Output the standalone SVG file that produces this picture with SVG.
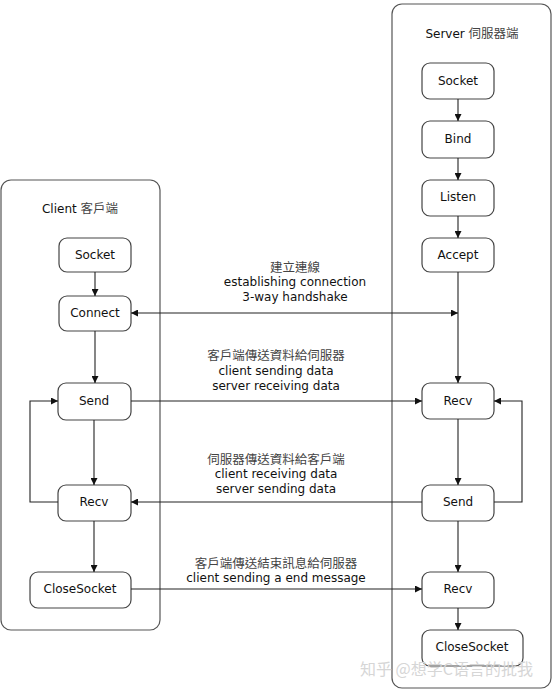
<svg xmlns="http://www.w3.org/2000/svg" width="553" height="689" viewBox="0 0 553 689">
<defs>
<marker id="arr" viewBox="0 0 10 10" refX="10" refY="5" markerWidth="7" markerHeight="7" markerUnits="userSpaceOnUse" orient="auto-start-reverse">
<path d="M0,0 L10,5 L0,10 z" fill="#111"/>
</marker>
</defs>
<style>
.cont{fill:#fff;stroke:#555;stroke-width:1.2}
.node rect{fill:#fff;stroke:#444;stroke-width:1.2}
text{font-family:"DejaVu Sans","Noto Sans CJK TC",sans-serif;font-size:12px;fill:#111;text-anchor:middle}
.cjk{font-family:"Noto Sans CJK TC",sans-serif;font-size:12.5px;fill:#444}
.lbl{font-size:12px}
.conn path{fill:none;stroke:#222;stroke-width:1.1}
.wm{font-family:"Noto Sans CJK SC",sans-serif;font-size:16px;fill:#d6d6d6;text-anchor:start}
</style>
<rect width="553" height="689" fill="#fff"/>
<g id="client">
<rect class="cont" x="1" y="180" width="159" height="450" rx="10"/>
<text x="80" y="213">Client <tspan class="cjk">客戶端</tspan></text>
</g>
<g id="server">
<rect class="cont" x="392" y="4" width="159" height="684" rx="10"/>
<text x="472" y="38">Server <tspan class="cjk">伺服器端</tspan></text>
</g>
<g id="c_socket" class="node"><rect x="59" y="238" width="72" height="34" rx="8"/><text x="95" y="259">Socket</text></g>
<g id="c_connect" class="node"><rect x="59" y="296" width="72" height="35" rx="8"/><text x="95" y="317">Connect</text></g>
<g id="c_send" class="node"><rect x="58" y="383" width="73" height="37" rx="8"/><text x="94" y="405">Send</text></g>
<g id="c_recv" class="node"><rect x="58" y="485" width="73" height="36" rx="8"/><text x="94" y="506">Recv</text></g>
<g id="c_close" class="node"><rect x="30" y="572" width="101" height="36" rx="8"/><text x="80" y="593">CloseSocket</text></g>
<g id="s_socket" class="node"><rect x="422" y="63" width="72" height="36" rx="8"/><text x="458" y="85">Socket</text></g>
<g id="s_bind" class="node"><rect x="422" y="121" width="72" height="37" rx="8"/><text x="458" y="143">Bind</text></g>
<g id="s_listen" class="node"><rect x="422" y="180" width="72" height="36" rx="8"/><text x="458" y="201">Listen</text></g>
<g id="s_accept" class="node"><rect x="422" y="238" width="72" height="34" rx="8"/><text x="458" y="259">Accept</text></g>
<g id="s_recv" class="node"><rect x="422" y="383" width="72" height="36" rx="8"/><text x="458" y="405">Recv</text></g>
<g id="s_send" class="node"><rect x="422" y="485" width="72" height="36" rx="8"/><text x="458" y="506">Send</text></g>
<g id="s_recv2" class="node"><rect x="422" y="572" width="72" height="36" rx="8"/><text x="458" y="593">Recv</text></g>
<g id="s_close" class="node"><rect x="422" y="630" width="101" height="36" rx="8"/><text x="472" y="651">CloseSocket</text></g>
<g id="connectors" class="conn">
<path d="M95,272 V296" marker-end="url(#arr)"/>
<path d="M95,331 V383" marker-end="url(#arr)"/>
<path d="M94,420 V485" marker-end="url(#arr)"/>
<path d="M94,521 V572" marker-end="url(#arr)"/>
<path d="M58,502 H30 V401 H58" marker-end="url(#arr)"/>
<path d="M458,99 V121" marker-end="url(#arr)"/>
<path d="M458,158 V180" marker-end="url(#arr)"/>
<path d="M458,216 V238" marker-end="url(#arr)"/>
<path d="M458,272 V383" marker-end="url(#arr)"/>
<path d="M458,419 V485" marker-end="url(#arr)"/>
<path d="M458,521 V572" marker-end="url(#arr)"/>
<path d="M458,608 V630" marker-end="url(#arr)"/>
<path d="M494,502 H522 V401 H494" marker-end="url(#arr)"/>
<path d="M131,313 H458" marker-start="url(#arr)" marker-end="url(#arr)"/>
<path d="M131,401 H422" marker-end="url(#arr)"/>
<path d="M422,502 H131" marker-end="url(#arr)"/>
<path d="M131,589 H422" marker-end="url(#arr)"/>
</g>
<g id="labels">
<text class="cjk" x="295" y="272">建立連線</text>
<text class="lbl" x="295" y="286">establishing connection</text>
<text class="lbl" x="295" y="301">3-way handshake</text>
<text class="cjk" x="276" y="360">客戶端傳送資料給伺服器</text>
<text class="lbl" x="276" y="375">client sending data</text>
<text class="lbl" x="276" y="390">server receiving data</text>
<text class="cjk" x="276" y="464">伺服器傳送資料給客戶端</text>
<text class="lbl" x="276" y="478">client receiving data</text>
<text class="lbl" x="276" y="493">server sending data</text>
<text class="cjk" x="276" y="568">客戶端傳送結束訊息給伺服器</text>
<text class="lbl" x="276" y="582">client sending a end message</text>
</g>
<text class="wm" x="360" y="675">知乎 @想学C语言的批我</text>
</svg>
